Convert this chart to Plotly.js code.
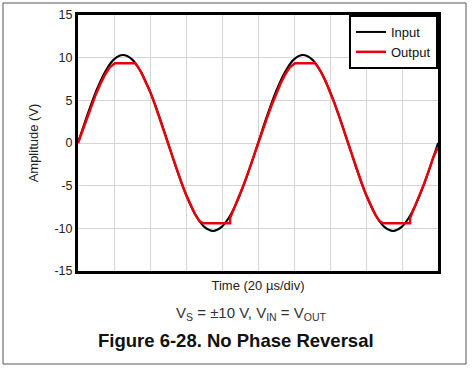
<!DOCTYPE html>
<html>
<head>
<meta charset="utf-8">
<script src="https://cdn.plot.ly/plotly-3.0.1.min.js"></script>
<style>html,body{margin:0;padding:0;background:#fff;}#chart{width:474px;height:371px;}</style>
</head>
<body>
<div id="chart"></div>
<script>
// Input sine, time in µs (20 µs/div)
const timeIn = [0,5,10,15,20,25,30,35,40,45,50,55,60,65,70,75,80,85,90,95,100,
  105,110,115,120,125,130,135,140,145,150,155,160,165,170,175,180,185,190,195,200];
const inputV = [0,3.18,6.05,8.33,9.8,10.3,9.8,8.33,6.05,3.18,0,-3.18,-6.05,-8.33,-9.8,-10.3,-9.8,-8.33,-6.05,-3.18,0,
  3.18,6.05,8.33,9.8,10.3,9.8,8.33,6.05,3.18,0,-3.18,-6.05,-8.33,-9.8,-10.3,-9.8,-8.33,-6.05,-3.18,0];

// Output (clipped)
const timeOut = [0,2.5,5,7.5,10,12.5,15,17.5,20.5,31.7,32.5,35,37.5,40,42.5,45,47.5,50,52.5,55,57.5,60,62.5,65,67.5,69.5,84.5,84.5,87.5,90,92.5,95,97.5,
  100,102.5,105,107.5,110,112.5,115,117.5,120.5,131.7,132.5,135,137.5,140,142.5,145,147.5,150,152.5,155,157.5,160,162.5,165,167.5,169.5,184.5,184.5,187.5,190,192.5,195,197.5,200];
const outputV = [0,1.5,2.95,4.4,5.75,6.95,8.0,8.85,9.35,9.35,9.15,8.33,7.25,6.05,4.66,3.18,1.6,0,-1.6,-3.18,-4.66,-6.05,-7.25,-8.33,-9.15,-9.4,-9.4,-8.8,-7.25,-6.05,-4.66,-3.18,-1.6,
  0,1.5,2.95,4.4,5.75,6.95,8.0,8.85,9.35,9.35,9.15,8.33,7.25,6.05,4.66,3.18,1.6,0,-1.6,-3.18,-4.66,-6.05,-7.25,-8.33,-9.15,-9.4,-9.4,-8.8,-7.25,-6.05,-4.66,-3.18,-1.6,-0.5];

const yTicks = [-15,-10,-5,0,5,10,15];

const traces = [
  {x: timeIn, y: inputV, type:'scatter', mode:'lines', name:'Input',
   line:{color:'#000000', width:2, shape:'spline'}},
  {x: timeOut, y: outputV, type:'scatter', mode:'lines', name:'Output',
   line:{color:'#e8000b', width:2.5}}
];

const layout = {
  width:474, height:371,
  margin:{l:78, r:36, t:15, b:100},
  paper_bgcolor:'#ffffff', plot_bgcolor:'#ffffff',
  font:{family:'Liberation Sans, Arial, sans-serif', size:12, color:'#222'},
  showlegend:true,
  legend:{x:1, xanchor:'right', y:1, yanchor:'top', bgcolor:'#ffffff',
    bordercolor:'#000', borderwidth:2, font:{size:13, color:'#111'},
    tracegroupgap:0},
  xaxis:{range:[0,200], dtick:20, tick0:0, showticklabels:false, ticks:'',
    showgrid:true, gridcolor:'#d4d4d4', gridwidth:1, zeroline:false,
    showline:true, linecolor:'#000', linewidth:3, mirror:true,
    title:{text:'Time (20 µs/div)', font:{size:13, color:'#222'}, standoff:8}},
  yaxis:{range:[-15,15], tickvals:yTicks, ticktext:yTicks.map(String), ticks:'',
    showgrid:true, gridcolor:'#d4d4d4', gridwidth:1, zeroline:false,
    showline:true, linecolor:'#000', linewidth:3, mirror:true,
    tickfont:{size:12.5, color:'#222'},
    title:{text:'Amplitude (V)', font:{size:13, color:'#222'}, standoff:13}},
  annotations:[
    {xref:'paper', yref:'paper', x:(251-78)/360, y:(271-313)/256, xanchor:'center', yanchor:'middle',
     showarrow:false, text:'V<sub>S</sub> = ±10 V, V<sub>IN</sub> = V<sub>OUT</sub>',
     font:{size:15, color:'#333'}},
    {xref:'paper', yref:'paper', x:(235.5-78)/360, y:(271-340)/256, xanchor:'center', yanchor:'middle',
     showarrow:false, text:'<b>Figure 6-28. No Phase Reversal</b>',
     font:{size:18.5, color:'#111'}}
  ],
  shapes:[
    {type:'rect', xref:'paper', yref:'paper',
     x0:(3-78)/360, x1:(466-78)/360, y0:(271-364)/256, y1:(271-3)/256,
     line:{color:'#555', width:1}, fillcolor:'rgba(0,0,0,0)', layer:'below'}
  ]
};

Plotly.newPlot('chart', traces, layout, {displayModeBar:false, staticPlot:true});
</script>
</body>
</html>
